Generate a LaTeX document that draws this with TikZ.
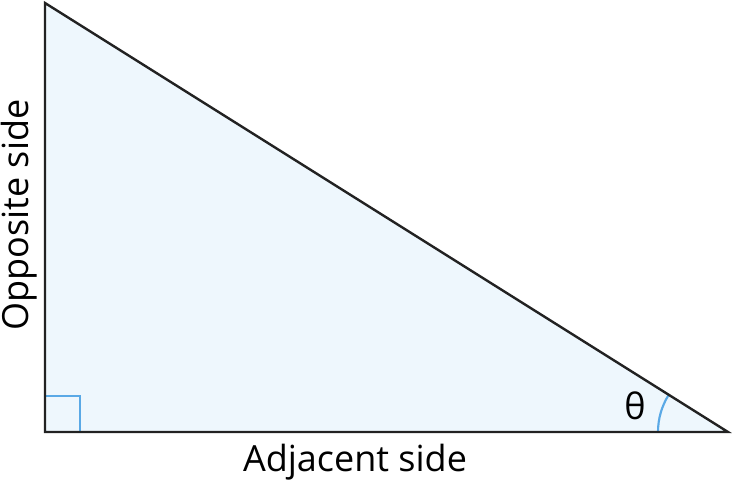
\documentclass[tikz,border=0pt]{standalone}
\usepackage{fontspec}
\setmainfont{Open Sans}
\definecolor{sidefill}{HTML}{EEF7FD}
\definecolor{markblue}{HTML}{5AA9E6}
\definecolor{edgegray}{HTML}{222222}
\begin{document}
\begin{tikzpicture}[x=0.75pt, y=-0.75pt]
% Set the canvas to the picture size
\useasboundingbox (0, 0) rectangle (732, 483);

% Corners of the triangle
\coordinate (top) at (45, 3);
\coordinate (corner) at (45, 432);
\coordinate (tip) at (728, 432);

% Draw the triangle and the marks
\fill[sidefill] (top) -- (corner) -- (tip) -- cycle;
\draw[markblue, line width=1.6pt] (45, 396) -- (80, 396) -- (80, 432);
\draw[markblue, line width=1.6pt] (tip) ++(180:70) arc[start angle=180, end angle=212.1, radius=70];
\draw[edgegray, line width=1.8pt, line join=miter] (top) -- (corner) -- (tip) -- cycle;

% Labels
\node[font=\fontsize{27}{32}\selectfont] (theta) at (635, 406) {θ};
\node[font=\fontsize{27}{32}\selectfont, rotate=90] (opp) at (19, 215) {Opposite side};
\node[font=\fontsize{27}{32}\selectfont] (adj) at (355, 462) {Adjacent side};
\end{tikzpicture}
\end{document}
